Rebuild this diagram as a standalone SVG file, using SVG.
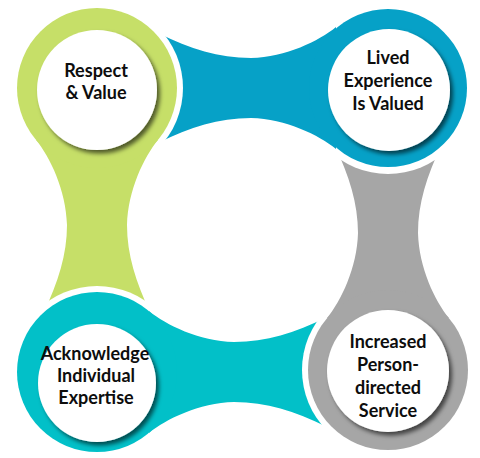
<svg xmlns="http://www.w3.org/2000/svg" width="480" height="458" viewBox="0 0 480 458">
<defs>
<style>
.green{fill:#C6DF68}
.blue{fill:#06A1C7}
.gray{fill:#A6A6A6}
.teal{fill:#02C0C8}
.disc{fill:#FFFFFF;filter:url(#sh)}
.lbl{font-family:Lato,"Liberation Sans",sans-serif;font-weight:700;font-size:18px;fill:#0D0D0D;text-anchor:middle}
</style>
<filter id="sh" x="-20%" y="-20%" width="150%" height="150%">
<feDropShadow dx="3" dy="3.5" stdDeviation="2.2" flood-color="#000" flood-opacity="0.6"/>
</filter>
<mask id="mToTeal" maskUnits="userSpaceOnUse" x="0" y="0" width="480" height="458">
<rect width="480" height="458" fill="#fff"/><circle cx="97" cy="372" r="86" fill="#000"/>
</mask>
<mask id="mToGray" maskUnits="userSpaceOnUse" x="0" y="0" width="480" height="458">
<rect width="480" height="458" fill="#fff"/><circle cx="388" cy="370" r="86" fill="#000"/>
</mask>
<mask id="mToBlue" maskUnits="userSpaceOnUse" x="0" y="0" width="480" height="458">
<rect width="480" height="458" fill="#fff"/><circle cx="388" cy="88" r="86" fill="#000"/>
</mask>
<mask id="mToGreen" maskUnits="userSpaceOnUse" x="0" y="0" width="480" height="458">
<rect width="480" height="458" fill="#fff"/><circle cx="97" cy="88" r="86" fill="#000"/>
</mask>
</defs>
<rect width="480" height="458" fill="#fff"/>
<g id="connectors">
<path class="green" mask="url(#mToTeal)" d="M36,140 C50,157 66,190 67,225 C67,255 58,282 44,312 L150,312 C136,282 127,255 127,225 C128,190 144,157 158,140 Z"/>
<path class="teal" mask="url(#mToGray)" d="M149,311 C166,325 199,341 234,342 C267,342 294,333 327,317 L327,427 C294,411 267,402 234,402 C199,403 166,419 149,433 Z"/>
<path class="gray" mask="url(#mToBlue)" d="M327,318 C341,301 357,268 358,233 C358,203 349,176 335,146 L441,146 C427,176 418,203 418,233 C419,268 435,301 449,318 Z"/>
<path class="blue" mask="url(#mToGreen)" d="M336,27 C319,41 286,57 251,58 C218,58 191,49 158,33 L158,143 C191,127 218,118 251,118 C286,119 319,135 336,149 Z"/>
</g>
<g id="node-respect">
<circle class="green" cx="97" cy="88" r="80"/>
<circle class="disc" cx="97" cy="90" r="60"/>
<text class="lbl" x="96" y="77">Respect</text>
<text class="lbl" x="96" y="99">&amp; Value</text>
</g>
<g id="node-lived">
<circle class="blue" cx="388" cy="88" r="79"/>
<circle class="disc" cx="389" cy="90" r="61"/>
<text class="lbl" x="388" y="64">Lived</text>
<text class="lbl" x="388" y="87">Experience</text>
<text class="lbl" x="388" y="110">Is Valued</text>
</g>
<g id="node-increased">
<circle class="gray" cx="388" cy="370" r="80"/>
<circle class="disc" cx="388" cy="371" r="61"/>
<text class="lbl" x="388" y="348">Increased</text>
<text class="lbl" x="388" y="371">Person-</text>
<text class="lbl" x="388" y="394">directed</text>
<text class="lbl" x="388" y="417">Service</text>
</g>
<g id="node-acknowledge">
<circle class="teal" cx="97" cy="372" r="80"/>
<circle class="disc" cx="97" cy="383" r="59"/>
<text class="lbl" x="95" y="360">Acknowledge</text>
<text class="lbl" x="96" y="382">Individual</text>
<text class="lbl" x="96" y="404">Expertise</text>
</g>
</svg>
